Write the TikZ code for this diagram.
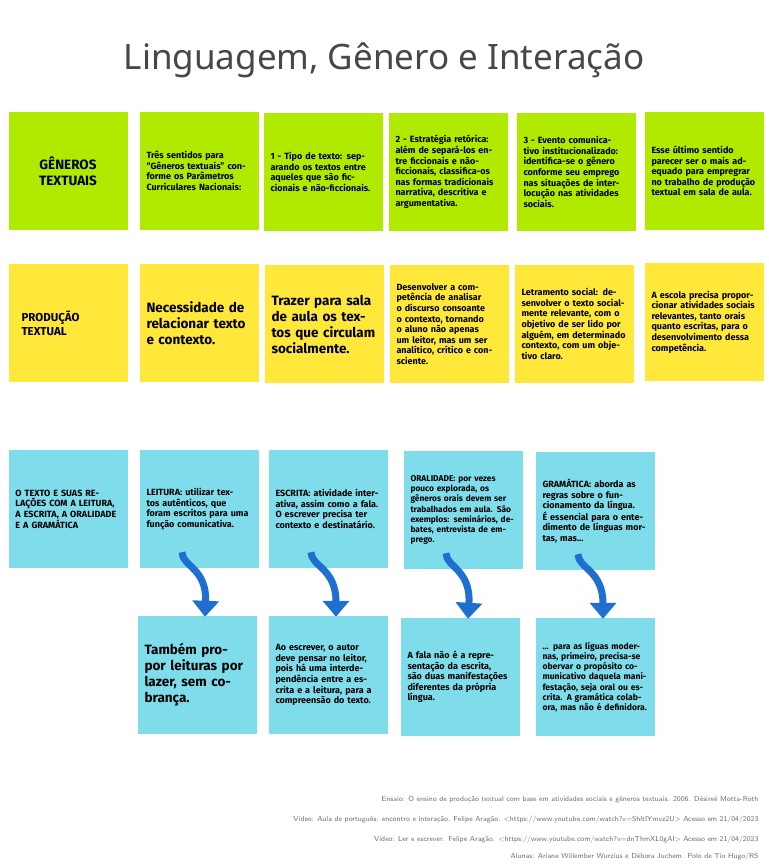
\documentclass[tikz,border=0pt]{standalone}
\usepackage{fontspec}
\setmainfont{Fira Sans}
\newfontfamily\titlefont{Noto Sans}
\usetikzlibrary{arrows.meta}
\definecolor{gr}{HTML}{B0EA00}
\definecolor{ye}{HTML}{FFE83A}
\definecolor{cy}{HTML}{7FDDEB}
\definecolor{ab}{HTML}{1E6FD0}
\tikzset{
 card/.style={fill=#1, minimum width=119pt, minimum height=118pt, inner sep=7pt, text width=105pt, align=left, font=\fontsize{9}{10.6}\selectfont\bfseries},
 big/.style={font=\fontsize{13.5}{16}\selectfont\bfseries},
 arr/.style={draw=ab, line width=7pt, -{Triangle[width=26pt,length=16pt]}},
 foot/.style={anchor=east, text=gray!85!black, font=\fontsize{7.3}{8}\selectfont\sffamily},
}
\begin{document}
\begin{tikzpicture}[x=1pt,y=-1pt]
\useasboundingbox (0,0) rectangle (768,864);
\node[text=black!72, font=\titlefont\fontsize{35}{40}\selectfont] (title) at (384,60) {Linguagem, Gênero e Interação};
% green row
\node[card=gr, big, align=center] (g1) at (68,171) {GÊNEROS\\TEXTUAIS};
\node[card=gr] (g2) at (199,171) {Três sentidos para ``Gêneros textuais'' conforme os Parâmetros Curriculares Nacionais:};
\node[card=gr] (g3) at (323,172) {1 - Tipo de texto: separando os textos entre aqueles que são ficcionais e não-ficcionais.};
\node[card=gr] (g4) at (448,172) {2 - Estratégia retórica: além de separá-los entre ficcionais e não-ficcionais, classifica-os nas formas tradicionais narrativa, descritiva e argumentativa.};
\node[card=gr] (g5) at (576,172) {3 - Evento comunicativo institucionalizado: identifica-se o gênero conforme seu emprego nas situações de interlocução nas atividades sociais.};
\node[card=gr] (g6) at (704,171) {Esse último sentido parecer ser o mais adequado para empregrar no trabalho de produção textual em sala de aula.};
% yellow row
\node[card=ye, font=\fontsize{11.5}{14}\selectfont\bfseries] (y1) at (68,323) {\hspace*{6pt}PRODUÇÃO\\\hspace*{6pt}TEXTUAL};
\node[card=ye, big] (y2) at (199,323) {Necessidade de relacionar texto e contexto.};
\node[card=ye, big] (y3) at (324,324) {Trazer para sala de aula os textos que circulam socialmente.};
\node[card=ye] (y4) at (449,324) {Desenvolver a competência de analisar o discurso consoante o contexto, tornando o aluno não apenas um leitor, mas um ser analítico, crítico e consciente.};
\node[card=ye] (y5) at (574,324) {Letramento social: desenvolver o texto socialmente relevante, com o objetivo de ser lido por alguém, em determinado contexto, com um objetivo claro.};
\node[card=ye] (y6) at (704,322) {A escola precisa proporcionar atividades sociais relevantes, tanto orais quanto escritas, para o desenvolvimento dessa competência.};
% cyan top
\node[card=cy] (c1) at (68,509) {O TEXTO E SUAS RELAÇÕES COM A LEITURA, A ESCRITA, A ORALIDADE E A GRAMÁTICA};
\node[card=cy] (c2) at (199,509) {LEITURA: utilizar textos autênticos, que foram escritos para uma função comunicativa.};
\node[card=cy] (c3) at (328,509) {ESCRITA: atividade interativa, assim como a fala. O escrever precisa ter contexto e destinatário.};
\node[card=cy, font=\fontsize{8.4}{10.2}\selectfont\bfseries] (c4) at (463,510) {ORALIDADE: por vezes pouco explorada, os gêneros orais devem ser trabalhados em aula. São exemplos: seminários, debates, entrevista de emprego.};
\node[card=cy] (c5) at (595,511) {GRAMÁTICA: aborda as regras sobre o funcionamento da língua. É essencial para o entedimento de línguas mortas, mas...};
% cyan bottom
\node[card=cy, big] (d2) at (197,675) {Também propor leituras por lazer, sem cobrança.};
\node[card=cy] (d3) at (328,675) {Ao escrever, o autor deve pensar no leitor, pois há uma interdependência entre a escrita e a leitura, para a compreensão do texto.};
\node[card=cy] (d4) at (460,677) {A fala não é a representação da escrita, são duas manifestações diferentes da própria língua.};
\node[card=cy, font=\fontsize{8.6}{10.2}\selectfont\bfseries] (d5) at (595,677) {... para as líguas modernas, primeiro, precisa-se obervar o propósito comunicativo daquela manifestação, seja oral ou escrita. A gramática colabora, mas não é definidora.};
% arrows
\foreach \a/\b in {c2/d2,c3/d3,c4/d4,c5/d5}{
 \draw[arr] ([xshift=-17pt,yshift=16pt]\a.south) .. controls ([xshift=-17pt,yshift=2pt]\a.south) and ([xshift=8pt,yshift=0pt]\a.south) .. ([xshift=8pt,yshift=-1pt]\b.north);
}
% footer
\node[foot] (f1) at (762,800) {Ensaio: O ensino de produção textual com base em atividades sociais e gêneros textuais. 2006. Désireé Motta-Roth};
\node[foot] (f2) at (762,820) {Vídeo: Aula de português: encontro e interação. Felipe Aragão. <https://www.youtube.com/watch?v=ShltIYmvz2U> Acesso em 21/04/2023};
\node[foot] (f3) at (762,840) {Vídeo: Ler e escrever. Felipe Aragão. <https://www.youtube.com/watch?v=dnThmXL0gAI> Acesso em 21/04/2023};
\node[foot] (f4) at (762,857) {Alunas: Ariane Willember Wurzius e Débora Juchem. Polo de Tio Hugo/RS};
\end{tikzpicture}
\end{document}
